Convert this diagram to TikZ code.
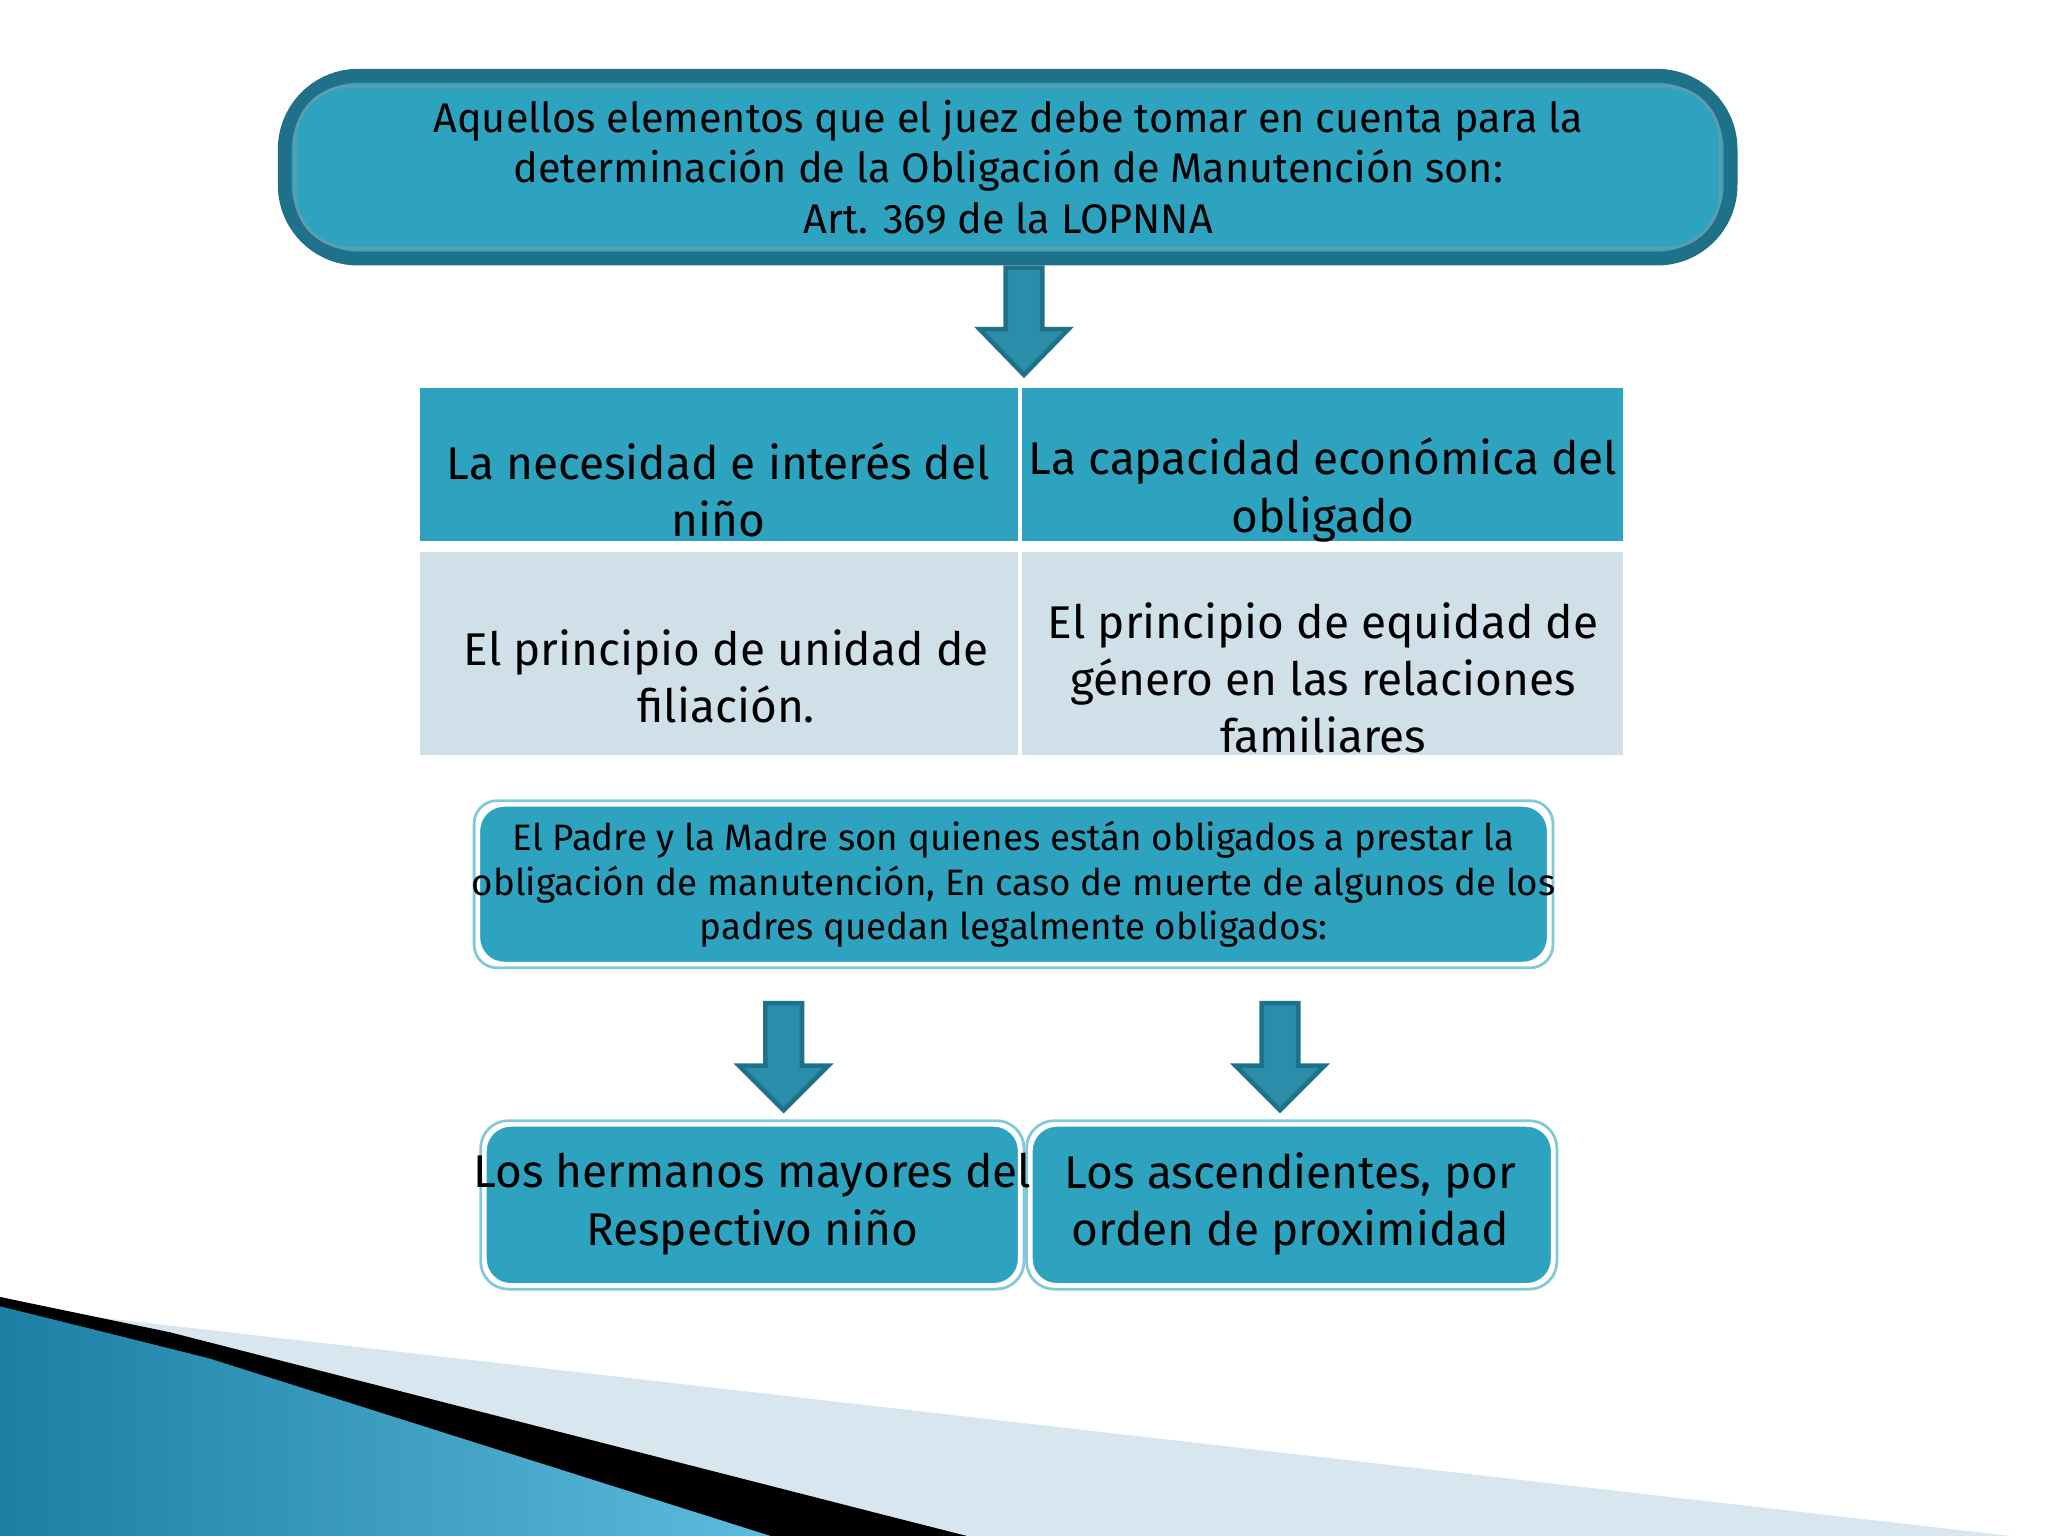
\documentclass[tikz,border=0pt]{standalone}
\usepackage{fontspec}
\setmainfont{Fira Sans}
\definecolor{teal1}{HTML}{2EA3C0}
\definecolor{tealdk}{HTML}{1E7189}
\definecolor{arrowc}{HTML}{2A8EAA}
\definecolor{pale}{HTML}{CFE0E8}
\definecolor{deco1}{HTML}{1C7FA3}
\definecolor{deco2}{HTML}{5DBCDD}
\definecolor{deco3}{HTML}{D8E7EF}
\begin{document}
\begin{tikzpicture}[x=0.01cm,y=-0.01cm,
  txt/.style={align=center,text=black,font=\fontsize{9}{11}\selectfont},
  cell/.style={fill=teal1,draw=white,line width=1pt},
  pcell/.style={fill=pale,draw=white,line width=1pt},
  bbox/.style={fill=teal1,draw=white,line width=1.2pt,rounded corners=4pt,
    double=teal1,double distance=0pt},
  darr/.style={fill=arrowc,draw=tealdk,line width=1pt}]
\useasboundingbox (0,0) rectangle (1568,1176);
% decoration
\fill[deco3] (0,1000) -- (1540,1176) -- (0,1176) -- cycle;
\fill[black] (0,993) -- (740,1176) -- (560,1176) -- (0,1010) -- cycle;
\shade[left color=deco1,right color=deco2] (0,1000) -- (160,1040) -- (590,1176) -- (0,1176) -- cycle;
\fill[black] (0,993) -- (130,1020) -- (740,1176) -- (700,1176) -- (90,1022) -- (0,1000) -- cycle;
% top box
\draw[fill=teal1,draw=tealdk,line width=3pt,rounded corners=16pt] (218,58) rectangle (1325,198);
\draw[draw=tealdk!70,line width=0.6pt,rounded corners=12pt] (226,66) rectangle (1317,190);
\node[txt] (top) at (772,128) {Aquellos elementos que el juez debe tomar en cuenta para la\\determinación de la Obligación de Manutención son:\\Art. 369 de la LOPNNA};
% arrow macro via path
\coordinate (a1) at (784,205);
\draw[darr] (770,205) -- (798,205) -- (798,252) -- (818,252) -- (784,287) -- (750,252) -- (770,252) -- cycle;
% table
\draw[cell] (320,295) rectangle (781,416);
\draw[cell] (781,295) rectangle (1244,416);
\draw[pcell] (320,421) rectangle (781,580);
\draw[pcell] (781,421) rectangle (1244,580);
\node[txt,font=\fontsize{10}{12.5}\selectfont] (c1) at (550,375) {La necesidad e interés del\\niño};
\node[txt,font=\fontsize{10}{12.5}\selectfont] (c2) at (1013,375) {La capacidad económica del\\obligado};
\node[txt,font=\fontsize{10}{12.5}\selectfont] (c3) at (556,518) {El principio de unidad de\\filiación.};
\node[txt,font=\fontsize{10}{12.5}\selectfont] (c4) at (1013,519) {El principio de equidad de\\género en las relaciones\\familiares};
% middle box
\draw[fill=teal1,draw=white,line width=1.5pt,rounded corners=6pt] (365,615) rectangle (1187,739);
\draw[draw=teal1!60!white,line width=0.6pt,rounded corners=5pt] (363,613) rectangle (1189,741);
\node[txt,font=\fontsize{8}{9.6}\selectfont] (mid) at (776,677) {El Padre y la Madre son quienes están obligados a prestar la\\obligación de manutención, En caso de muerte de algunos de los\\padres quedan legalmente obligados:};
% arrows
\draw[darr] (586,768) -- (614,768) -- (614,816) -- (634,816) -- (600,850) -- (566,816) -- (586,816) -- cycle;
\draw[darr] (966,768) -- (994,768) -- (994,816) -- (1014,816) -- (980,850) -- (946,816) -- (966,816) -- cycle;
% bottom boxes
\draw[fill=teal1,draw=white,line width=1.5pt,rounded corners=6pt] (370,860) rectangle (782,985);
\draw[draw=teal1!60!white,line width=0.6pt,rounded corners=6pt] (368,858) rectangle (784,987);
\draw[fill=teal1,draw=white,line width=1.5pt,rounded corners=6pt] (788,860) rectangle (1190,985);
\draw[draw=teal1!60!white,line width=0.6pt,rounded corners=6pt] (786,858) rectangle (1192,987);
\node[txt,font=\fontsize{10}{12.5}\selectfont] (b1) at (576,922) {Los hermanos mayores del\\Respectivo niño};
\node[txt,font=\fontsize{10}{12.5}\selectfont] (b2) at (988,922) {Los ascendientes, por\\orden de proximidad};
\end{tikzpicture}
\end{document}
